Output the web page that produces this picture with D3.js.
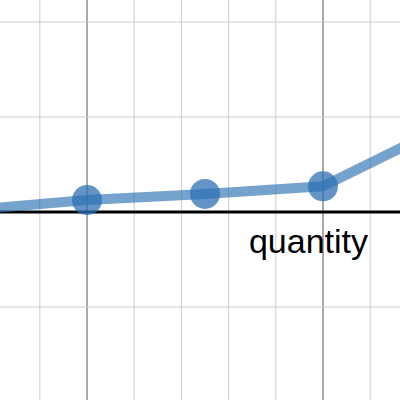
<!DOCTYPE html>
<html><head><meta charset="utf-8">
<script src="https://cdn.jsdelivr.net/npm/d3@7"></script>
<style>body{margin:0;background:#fff}svg{display:block}</style>
</head><body><svg id="c" width="400" height="400"></svg>
<script>
const xs = [3, 5, 7.5, 10, 12];
const ys = [0.04, 0.126, 0.19, 0.27, 0.76];
const markerXs = [5, 7.5, 10];
const markerYs = [0.126, 0.19, 0.27];
const axisLabel = "quantity";

const svg = d3.select("#c");
const x = d3.scaleLinear().domain([5, 10]).range([87, 323]);
const y = d3.scaleLinear().domain([0, 1]).range([212, 117]);
const g = svg.append("g");
for (let v = 3; v <= 12; v++) {
  g.append("line").attr("x1", x(v)).attr("x2", x(v)).attr("y1", 0).attr("y2", 400)
    .attr("stroke", v % 5 === 0 ? "#555" : "#ccc").attr("stroke-width", 1);
}
for (let v = -2; v <= 2; v++) {
  if (v === 0) continue;
  g.append("line").attr("x1", 0).attr("x2", 400).attr("y1", y(v)).attr("y2", y(v))
    .attr("stroke", "#ccc").attr("stroke-width", 1);
}
g.append("line").attr("x1", 0).attr("x2", 400).attr("y1", y(0)).attr("y2", y(0))
  .attr("stroke", "#000").attr("stroke-width", 3);
svg.append("text").attr("x", 368).attr("y", 253).attr("text-anchor", "end")
  .attr("font-family", "Liberation Sans, Arial, sans-serif").attr("font-size", 34).text(axisLabel);
const pts = xs.map((d, i) => [d, ys[i]]);
svg.append("path").datum(pts)
  .attr("d", d3.line().x(d => x(d[0])).y(d => y(d[1])))
  .attr("fill", "none").attr("stroke", "#2d70b3").attr("stroke-opacity", 0.65)
  .attr("stroke-width", 10).attr("stroke-linejoin", "round");
svg.selectAll("circle.m").data(markerXs.map((d, i) => [d, markerYs[i]])).enter()
  .append("circle").attr("cx", d => x(d[0])).attr("cy", d => y(d[1])).attr("r", 15)
  .attr("fill", "#2d70b3").attr("fill-opacity", 0.75);
</script></body></html>
